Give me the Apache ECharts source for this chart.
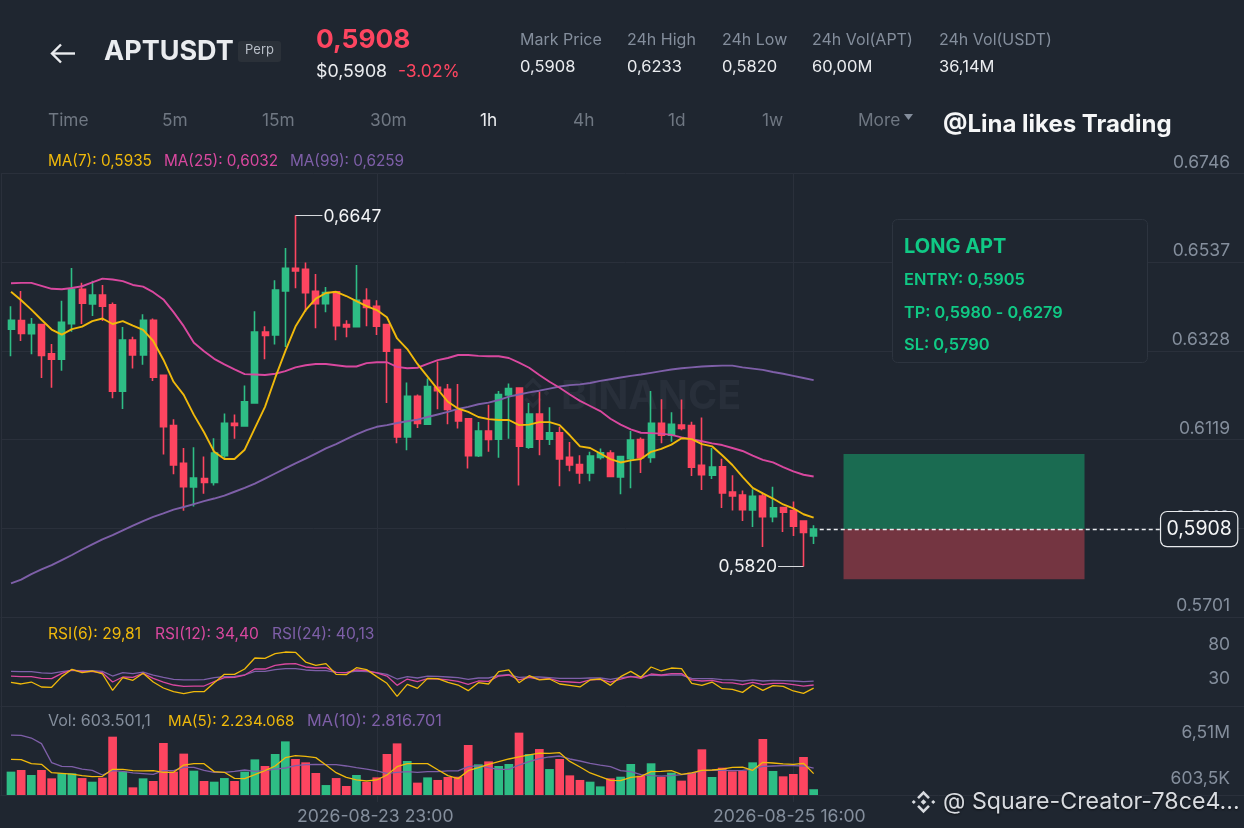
<!DOCTYPE html>
<html><head><meta charset="utf-8">
<style>html,body{margin:0;padding:0;background:#1f2630;overflow:hidden;width:1244px;height:828px}#c{width:1252px;height:828px}</style>
<script src="https://cdn.jsdelivr.net/npm/echarts@6/dist/echarts.min.js"></script>
</head><body><div id="c"></div>
<script>
const categories = ['2026-08-22 11:00','2026-08-22 12:00','2026-08-22 13:00','2026-08-22 14:00','2026-08-22 15:00','2026-08-22 16:00','2026-08-22 17:00','2026-08-22 18:00','2026-08-22 19:00','2026-08-22 20:00','2026-08-22 21:00','2026-08-22 22:00','2026-08-22 23:00',
'2026-08-23 00:00','2026-08-23 01:00','2026-08-23 02:00','2026-08-23 03:00','2026-08-23 04:00','2026-08-23 05:00','2026-08-23 06:00','2026-08-23 07:00','2026-08-23 08:00','2026-08-23 09:00','2026-08-23 10:00','2026-08-23 11:00','2026-08-23 12:00','2026-08-23 13:00','2026-08-23 14:00','2026-08-23 15:00','2026-08-23 16:00','2026-08-23 17:00','2026-08-23 18:00','2026-08-23 19:00','2026-08-23 20:00','2026-08-23 21:00','2026-08-23 22:00','2026-08-23 23:00',
'2026-08-24 00:00','2026-08-24 01:00','2026-08-24 02:00','2026-08-24 03:00','2026-08-24 04:00','2026-08-24 05:00','2026-08-24 06:00','2026-08-24 07:00','2026-08-24 08:00','2026-08-24 09:00','2026-08-24 10:00','2026-08-24 11:00','2026-08-24 12:00','2026-08-24 13:00','2026-08-24 14:00','2026-08-24 15:00','2026-08-24 16:00','2026-08-24 17:00','2026-08-24 18:00','2026-08-24 19:00','2026-08-24 20:00','2026-08-24 21:00','2026-08-24 22:00','2026-08-24 23:00',
'2026-08-25 00:00','2026-08-25 01:00','2026-08-25 02:00','2026-08-25 03:00','2026-08-25 04:00','2026-08-25 05:00','2026-08-25 06:00','2026-08-25 07:00','2026-08-25 08:00','2026-08-25 09:00','2026-08-25 10:00','2026-08-25 11:00','2026-08-25 12:00','2026-08-25 13:00','2026-08-25 14:00','2026-08-25 15:00','2026-08-25 16:00','2026-08-25 17:00','2026-08-25 18:00'];

// [open, close, low, high]
const candles = [
[.6379,.6400,.6315,.6433],[.6399,.6369,.6351,.6469],[.6368,.6390,.6320,.6405],[.6390,.6317,.6264,.6390],[.6321,.6308,.6241,.6344],
[.6308,.6395,.6281,.6446],[.6392,.6473,.6373,.6523],[.6473,.6440,.6391,.6488],[.6438,.6459,.6410,.6493],[.6459,.6433,.6398,.6483],
[.6436,.6233,.6216,.6442],[.6233,.6353,.6191,.6384],[.6353,.6318,.6286,.6361],[.6318,.6400,.6295,.6414],[.6400,.6266,.6257,.6404],
[.6270,.6149,.6084,.6270],[.6152,.6059,.6037,.6167],[.6063,.6008,.5951,.6099],[.6007,.6028,.5961,.6101],[.6027,.6018,.5991,.6079],
[.6018,.6087,.6011,.6122],[.6081,.6157,.6074,.6180],[.6157,.6152,.6121,.6178],[.6151,.6208,.6151,.6246],[.6205,.6372,.6205,.6421],
[.6372,.6364,.6308,.6386],[.6365,.6471,.6343,.6494],[.6469,.6522,.6337,.6570],[.6522,.6516,.6475,.6647],[.6520,.6465,.6420,.6536],
[.6468,.6439,.6381,.6509],[.6439,.6465,.6419,.6478],[.6467,.6387,.6353,.6467],[.6390,.6384,.6360,.6400],[.6385,.6447,.6385,.6530],
[.6447,.6430,.6386,.6475],[.6433,.6386,.6365,.6447],[.6390,.6327,.6205,.6390],[.6331,.6125,.6110,.6331],[.6125,.6221,.6094,.6253],
[.6221,.6157,.6146,.6225],[.6155,.6244,.6155,.6263],[.6242,.6234,.6190,.6303],[.6237,.6190,.6155,.6250],[.6188,.6163,.6145,.6250],
[.6168,.6081,.6051,.6168],[.6081,.6139,.6078,.6160],[.6139,.6119,.6090,.6201],[.6120,.6225,.6076,.6233],[.6224,.6239,.6121,.6251],
[.6240,.6103,.6011,.6240],[.6101,.6179,.6097,.6205],[.6179,.6120,.6082,.6232],[.6120,.6135,.6106,.6195],[.6135,.6073,.6009,.6149],
[.6077,.6059,.6044,.6113],[.6060,.6040,.6015,.6082],[.6040,.6080,.6021,.6090],[.6077,.6088,.6072,.6098],[.6087,.6032,.6031,.6094],
[.6031,.6079,.5990,.6081],[.6074,.6118,.6004,.6139],[.6119,.6076,.6040,.6124],[.6077,.6157,.6064,.6233],[.6157,.6129,.6110,.6214],
[.6129,.6155,.6114,.6183],[.6153,.6145,.6141,.6213],[.6152,.6054,.6033,.6161],[.6058,.6036,.6000,.6171],[.6035,.6054,.6026,.6099],
[.6055,.5993,.5958,.6074],[.5995,.5986,.5952,.6035],[.5988,.5954,.5927,.5999],[.5953,.5985,.5913,.6002],[.5986,.5937,.5866,.5994],
[.5937,.5958,.5924,.6008],[.5959,.5948,.5901,.5959],[.5952,.5915,.5892,.5973],[.5927,.5900,.5820,.5927],[.5892,.5908,.5873,.5917]];

const ma7 = [.6467,.6447,.6425,.6401,.6378,.6366,.6379,.6385,.6398,.6404,.6391,.6398,.6387,.6377,.6351,.6307,.6255,.6224,.6177,.6136,.6090,.6073,.6073,.6095,.6146,.6196,.6264,.6327,.6385,.6424,.6451,.6464,.6467,.6457,.6445,.6433,.6424,.6407,.6357,.6332,.6297,.6267,.6237,.6208,.6192,.6184,.6172,.6167,.6165,.6165,.6153,.6154,.6160,.6160,.6153,.6129,.6103,.6099,.6086,.6073,.6065,.6070,.6073,.6090,.6097,.6107,.6122,.6120,.6108,.6103,.6082,.6059,.6031,.6005,.5992,.5980,.5966,.5957,.5943,.5935];
const ma25 = [.6487,.6488,.6488,.6481,.6474,.6473,.6476,.6480,.6489,.6498,.6496,.6492,.6483,.6479,.6466,.6449,.6419,.6386,.6347,.6327,.6309,.6296,.6284,.6273,.6272,.6271,.6274,.6280,.6289,.6294,.6297,.6297,.6294,.6291,.6291,.6299,.6301,.6301,.6290,.6287,.6288,.6297,.6306,.6311,.6318,.6318,.6316,.6315,.6315,.6311,.6300,.6288,.6271,.6255,.6241,.6225,.6210,.6198,.6186,.6168,.6154,.6143,.6135,.6134,.6133,.6130,.6124,.6120,.6115,.6110,.6106,.6099,.6092,.6081,.6071,.6065,.6054,.6044,.6036,.6032];
const ma99 = [.5780,.5789,.5802,.5813,.5823,.5835,.5847,.5860,.5872,.5884,.5894,.5905,.5916,.5927,.5937,.5945,.5954,.5960,.5967,.5974,.5980,.5987,.5996,.6005,.6015,.6027,.6039,.6051,.6063,.6074,.6086,.6098,.6108,.6120,.6131,.6141,.6149,.6153,.6158,.6162,.6166,.6172,.6178,.6184,.6191,.6196,.6202,.6206,.6212,.6220,.6225,.6230,.6234,.6239,.6244,.6247,.6249,.6252,.6257,.6261,.6265,.6269,.6272,.6276,.6280,.6284,.6287,.6289,.6291,.6292,.6293,.6293,.6289,.6286,.6283,.6278,.6274,.6269,.6264,.6259];

const rsi6 = [38.3,35.9,38.8,31.5,31.0,46.7,57.5,52.5,55.0,50.6,26.6,45.2,41.3,51.6,38.8,30.0,24.6,21.7,24.6,24.6,37.8,50.1,50.1,57.9,74.1,73.6,80.5,82.9,82.5,68.2,63.3,65.8,50.1,49.6,59.9,57.0,46.7,36.9,17.7,35.4,29.5,44.2,43.7,38.3,34.4,26.1,37.8,35.9,54.0,56.5,37.8,48.1,41.8,43.2,35.9,33.9,31.5,41.8,43.2,33.9,46.7,54.5,45.7,60.9,55.0,59.4,58.4,36.9,33.9,38.8,29.0,28.0,23.6,34.4,26.6,33.4,32.4,25.6,22.2,29.81];
const rsi12 = [47.6,46.7,46.7,44.2,43.7,51.6,56.5,54.0,54.0,52.5,38.8,46.2,45.7,51.6,44.2,38.8,34.4,32.4,32.9,32.9,39.3,45.2,45.7,49.1,57.9,57.9,63.3,65.3,65.8,60.9,59.4,59.9,53.0,52.5,56.5,55.5,52.1,47.6,33.9,43.2,39.3,43.7,43.2,41.8,39.8,35.4,40.3,39.8,47.6,49.1,41.8,45.7,42.7,43.7,39.8,38.8,37.8,41.8,42.7,38.8,43.2,47.2,44.2,50.6,49.1,51.1,51.1,41.8,40.3,41.3,37.8,37.4,34.9,38.3,34.9,36.9,36.9,34.9,32.9,34.40];
const rsi24 = [54.5,54.0,54.0,52.1,51.6,54.0,56.0,55.5,55.5,54.5,47.6,52.5,51.1,53.5,49.1,45.7,42.7,41.8,41.8,42.3,45.2,46.7,47.2,49.1,54.5,54.5,57.0,58.4,58.4,56.5,55.5,55.5,53.0,52.5,55.0,54.0,52.5,50.1,43.2,46.7,44.7,47.6,47.2,46.2,45.2,42.7,44.7,44.7,48.6,49.6,45.7,46.2,46.2,45.2,44.2,44.2,44.2,44.7,44.7,42.7,45.2,46.7,46.2,49.1,48.1,49.1,49.1,44.2,43.7,43.7,42.3,41.8,40.3,41.8,40.3,41.3,40.8,40.3,39.3,40.13];

const volume = [2.44,2.61,2.09,2.61,1.74,2.26,2.26,1.77,1.39,1.81,6.09,2.44,0.80,1.74,1.46,5.43,2.44,4.32,2.54,1.46,1.39,1.77,1.46,2.44,3.72,3.03,4.28,5.60,3.76,3.41,2.30,1.04,1.77,0.94,2.09,1.36,1.84,4.28,5.39,3.55,1.29,1.84,1.57,1.88,1.91,5.22,3.20,3.51,3.03,3.24,6.51,4.28,4.80,2.71,3.76,2.05,1.57,1.39,0.90,1.74,1.91,3.24,2.02,3.31,1.88,2.33,1.50,2.33,4.77,1.88,2.85,2.47,2.54,3.41,5.85,2.51,1.95,2.19,3.97,0.6035];
const volMa5 = [3.72,3.69,3.27,3.20,2.33,2.26,2.19,2.02,1.91,1.95,2.68,2.68,2.54,2.51,2.54,2.37,2.37,3.13,3.27,3.27,2.44,2.37,1.74,1.71,2.12,2.54,3.03,3.90,4.11,4.04,3.90,3.13,2.33,1.84,1.57,1.46,1.57,2.09,2.96,3.27,3.27,3.27,2.64,2.02,1.71,2.54,2.85,3.20,3.48,3.76,3.97,4.18,4.38,4.35,4.42,3.51,2.92,2.30,1.91,1.53,1.50,1.84,1.95,2.44,2.47,2.54,2.16,2.30,2.58,2.61,2.71,2.89,2.92,2.58,3.41,3.34,3.24,3.20,3.31,2.234];
const volMa10 = [6.26,6.23,5.95,5.36,3.38,2.99,2.96,2.71,2.58,2.09,2.54,2.47,2.30,2.23,2.16,2.54,2.54,2.89,2.89,2.58,2.37,2.37,2.47,2.61,2.47,2.54,2.71,2.82,3.06,3.17,3.20,3.17,3.17,3.03,2.85,2.71,2.51,2.26,2.37,2.44,2.37,2.44,2.44,2.51,2.51,2.96,3.06,2.85,2.68,2.68,3.13,3.48,3.79,3.97,4.07,3.76,3.55,3.31,3.13,2.96,2.54,2.44,2.12,2.02,1.98,2.02,2.12,2.26,2.54,2.58,2.58,2.54,2.58,2.71,2.99,3.03,3.06,3.06,3.03,2.8167];

const priceTicks = [0.5701,0.5910,0.6119,0.6328,0.6537,0.6746];
const rsiTicks = [30,80];
const volTicks = [0.6035,6.51];
const lastPrice = 0.5908, priceHigh = 0.6647, priceLow = 0.5820;
const tpLevel = 0.6085, slLevel = 0.5790;

const BG='#1f2630', GRID='#2a303b', UP='#2ebd85', DOWN='#fd4560', YEL='#f0b90b', PINK='#d9489f', PUR='#7e5fa8', GRAY='#848e9c', FG='#eaecef';
const FONT='Inter, "Open Sans", sans-serif';

const pad = a => [null, ...a];
const xCats = ['', ...categories, ...new Array(43).fill('')];
const tickShown = i => i===37 || i===78;
const lineShown = i => i===0 || i===37 || i===78;

const t = (x,y,text,fill,size,weight,align,extra) => Object.assign({type:'text',x,y,z:20,silent:true,
  style:{text,fill,fontSize:size,fontWeight:weight||400,fontFamily:FONT,align:align||'left',verticalAlign:'middle'}},extra||{});
const diamond=(cx,cy,r,fill,z)=>({type:'polygon',z:z,silent:true,shape:{points:[[cx,cy-r],[cx+r,cy],[cx,cy+r],[cx-r,cy]]},style:{fill}});
const chevron=(pts,stroke,w,z)=>({type:'polyline',z:z,silent:true,shape:{points:pts},style:{stroke,lineWidth:w,fill:'none'}});
const logo=(cx,cy,s,col,z)=>[diamond(cx,cy,s*.22,col,z),diamond(cx-s*.75,cy,s*.16,col,z),diamond(cx+s*.75,cy,s*.16,col,z),
  chevron([[cx-s*.42,cy-s*.3],[cx,cy-s*.72],[cx+s*.42,cy-s*.3]],col,s*.2,z),chevron([[cx-s*.42,cy+s*.3],[cx,cy+s*.72],[cx+s*.42,cy+s*.3]],col,s*.2,z)];

const graphics = [
  // chart watermark
  t(561,397,'BINANCE','#282f3a',39.5,700,'left',{z:1,style:{text:'BINANCE',fill:'#282f3a',fontSize:39.5,fontWeight:700,fontFamily:FONT,align:'left',verticalAlign:'middle'}}),
  ...logo(533,393,18,'#282f3a',1),
  // header
  chevron([[75,53.5],[52,53.5]],FG,2.4,20), chevron([[61,44.5],[52,53.5],[61,62.5]],FG,2.4,20),
  t(104,52,'APTUSDT',FG,27,700),
  {type:'rect',z:19,silent:true,shape:{x:238,y:41,width:43,height:21,r:3},style:{fill:'#2b3139'}},
  t(259.5,50.5,'Perp','#b7bdc6',13,400,'center'),
  t(316,40,'0,5908',DOWN,26.3,700),
  t(316,72,'$0,5908',FG,17.8),
  t(398,72,'-3.02%',DOWN,17.5),
  t(520,40,'Mark Price',GRAY,16), t(520,67,'0,5908',FG,16.5),
  t(627,40,'24h High',GRAY,16), t(627,67,'0,6233',FG,16.5),
  t(722,40,'24h Low',GRAY,16), t(722,67,'0,5820',FG,16.5),
  t(812,40,'24h Vol(APT)',GRAY,16), t(812,67,'60,00M',FG,16.5),
  t(939,40,'24h Vol(USDT)',GRAY,16), t(939,67,'36,14M',FG,16.5),
  // interval tabs
  t(48,121,'Time','#6f7782',17.3), t(162,121,'5m','#6f7782',17.3), t(262,121,'15m','#6f7782',17.3), t(370,121,'30m','#6f7782',17.3),
  t(480,121,'1h',FG,17.3), t(573,121,'4h','#6f7782',17.3), t(668,121,'1d','#6f7782',17.3), t(762,121,'1w','#6f7782',17.3), t(858,121,'More','#6f7782',17.3),
  {type:'polygon',z:20,silent:true,shape:{points:[[904,114],[913,114],[908.5,120]]},style:{fill:'#848e9c'}},
  t(943,125,'@Lina likes Trading','#f5f6f7',24,700),
  // legends
  t(48,161.5,'MA(7): 0,5935',YEL,15.3), t(164,161.5,'MA(25): 0,6032',PINK,15.3), t(290,161.5,'MA(99): 0,6259',PUR,15.3),
  t(48,634,'RSI(6): 29,81',YEL,15.6), t(155,634,'RSI(12): 34,40',PINK,15.6), t(272,634,'RSI(24): 40,13',PUR,15.6),
  t(48,721.5,'Vol: 603.501,1',GRAY,16), t(168,721.5,'MA(5): 2.234.068',YEL,15.1), t(307,721.5,'MA(10): 2.816.701',PUR,16.3),
  // trade plan panel
  {type:'rect',z:1,silent:true,shape:{x:892.5,y:219.5,width:255,height:143,r:5},style:{fill:BG,stroke:'#2d343f',lineWidth:1}},
  t(904,247,'LONG APT','#10c985',20,700),
  t(904,280.5,'ENTRY: 0,5905','#10c985',16.4,600),
  t(904,313.5,'TP: 0,5980 - 0,6279','#10c985',16.3,600),
  t(904,345.5,'SL: 0,5790','#10c985',16.4,600),
  // bottom-right watermark
  ...logo(923.5,802,13,'#d8dbe0',20),
  t(943,802.5,'@ Square-Creator-78ce4...','#d8dbe0',23.2,400,'left',{style:{text:'@ Square-Creator-78ce4...',fill:'#d8dbe0',fontSize:23.2,fontFamily:FONT,align:'left',verticalAlign:'middle',textShadowColor:'rgba(0,0,0,.6)',textShadowBlur:2,textShadowOffsetY:1}})
];

const axisX = (grid,extra)=>Object.assign({type:'category',gridIndex:grid,data:xCats,boundaryGap:false,
  axisLine:{show:true,onZero:false,lineStyle:{color:GRID,width:1}},axisTick:{show:false},axisLabel:{show:false},axisPointer:{show:false},
  splitLine:{show:true,interval:lineShown,lineStyle:{color:GRID,width:1}}},extra||{});
const valLabel = Object.assign({inside:true,color:GRAY,fontSize:17.5,fontFamily:FONT,margin:20.5,align:'right'});
const lineS = (name,data,color,xi,yi,w)=>({name,type:'line',xAxisIndex:xi,yAxisIndex:yi,data:pad(data),showSymbol:false,symbol:'none',
  smooth:false,z:5,silent:true,lineStyle:{color,width:w},connectNulls:false});

const mlLabel = {show:true,position:'end',color:'#f2f3f5',fontSize:17.5,fontFamily:FONT,distance:1};
const option = {
  animation:false,backgroundColor:BG,tooltip:{show:false},
  grid:[
    {left:.84,top:173.3,width:1249.7,height:443.7},
    {left:.84,top:617,width:1249.7,height:89.7},
    {left:.84,top:706.7,width:1249.7,height:88.3}],
  xAxis:[
    axisX(0),axisX(1),
    axisX(2,{axisTick:{show:true,length:7,interval:tickShown,lineStyle:{color:GRID}},
      axisLabel:{show:true,interval:tickShown,color:GRAY,fontSize:17.6,fontFamily:FONT,margin:13,
        formatter:(v,i)=>i===37?'{a|'+v+'}':'{b|'+v+'}',
        rich:{a:{color:GRAY,fontSize:17.6,fontFamily:FONT,padding:[0,3,0,0]},b:{color:GRAY,fontSize:17.6,fontFamily:FONT,padding:[0,8,0,0]}}}}),
    {type:'value',gridIndex:0,min:0,max:123,show:false}],
  yAxis:[
    {type:'value',gridIndex:0,position:'right',min:priceTicks[0],max:priceTicks[5],scale:true,
      axisLine:{show:false},axisTick:{show:false,customValues:priceTicks},
      axisLabel:Object.assign({},valLabel,{customValues:priceTicks,verticalAlign:'bottom',padding:[0,0,2,0],formatter:v=>v.toFixed(4)}),
      splitLine:{show:true,lineStyle:{color:GRID,width:1}}},
    {type:'value',gridIndex:1,position:'right',min:2.5,max:134.4,
      axisLine:{show:false},axisTick:{show:false,customValues:rsiTicks},
      axisLabel:Object.assign({},valLabel,{customValues:rsiTicks,verticalAlign:'bottom',padding:[0,0,0,0],formatter:v=>String(v)}),
      splitLine:{show:false}},
    {type:'value',gridIndex:2,position:'right',min:0,max:9.22,
      axisLine:{show:false},axisTick:{show:false,customValues:volTicks},
      axisLabel:Object.assign({},valLabel,{customValues:volTicks,verticalAlign:'middle',
        formatter:v=>v<1?'{b|603,5K}':'{a|6,51M}',
        rich:{a:{color:GRAY,fontSize:17.5,fontFamily:FONT},b:{color:GRAY,fontSize:17.5,fontFamily:FONT,padding:[0,0,20,0]}}}),
      splitLine:{show:false}}],
  graphic:{elements:graphics},
  series:[
    {name:'APTUSDT',type:'candlestick',xAxisIndex:0,yAxisIndex:0,barWidth:6.5,z:3,silent:true,
      data:['-',...candles],
      itemStyle:{color:UP,color0:DOWN,borderColor:UP,borderColor0:DOWN,borderWidth:1.6}},
    lineS('MA(99)',ma99,PUR,0,0,1.9),
    lineS('MA(25)',ma25,PINK,0,0,1.9),
    lineS('MA(7)',ma7,YEL,0,0,1.9),
    {name:'marks',type:'line',xAxisIndex:3,yAxisIndex:0,data:[],z:4,silent:true,
      markArea:{silent:true,data:[
        [{coord:[82.94,lastPrice],itemStyle:{color:'#1a6b51',opacity:1}},{coord:[106.66,tpLevel]}],
        [{coord:[82.94,slLevel],itemStyle:{color:'#743541',opacity:1}},{coord:[106.66,lastPrice]}]]},
      markLine:{silent:true,symbol:'none',animation:false,data:[
        [{coord:[29,priceHigh],lineStyle:{color:'#d5d8dc',width:1,type:'solid'},label:Object.assign({},mlLabel,{formatter:'0,6647',offset:[0,1]})},{coord:[31.65,priceHigh]}],
        [{coord:[79,priceLow],lineStyle:{color:'#d5d8dc',width:1,type:'solid'},label:Object.assign({},mlLabel,{formatter:'0,5820'})},{coord:[76.5,priceLow]}],
        [{coord:[80.6,lastPrice],lineStyle:{color:'#e8eaed',width:1.4,type:[4,3]},
          label:{show:true,position:'end',distance:0,formatter:'0,5908',color:'#f5f6f7',fontSize:19.5,fontFamily:FONT,
            backgroundColor:BG,borderColor:'#e8eaed',borderWidth:1.2,borderRadius:6,padding:[7,5.3]}},{coord:[114.2,lastPrice]}]]}},
    lineS('RSI(24)',rsi24,PUR,1,1,1.3),
    lineS('RSI(12)',rsi12,PINK,1,1,1.3),
    lineS('RSI(6)',rsi6,YEL,1,1,1.3),
    {name:'Vol',type:'bar',xAxisIndex:2,yAxisIndex:2,barWidth:8.7,z:3,silent:true,
      data:pad(volume).map((v,i)=>{ if(v==null) return null; const c=candles[i-1];
        return {value:v,itemStyle:{color:c[1]>=c[0]?UP:DOWN}};})},
    lineS('MA(10)',volMa10,PUR,2,2,1.3),
    lineS('MA(5)',volMa5,YEL,2,2,1.3)
  ]
};
const chart = echarts.init(document.getElementById('c'),null,{renderer:'canvas',width:1252,height:828});
chart.setOption(option);
</script></body></html>
